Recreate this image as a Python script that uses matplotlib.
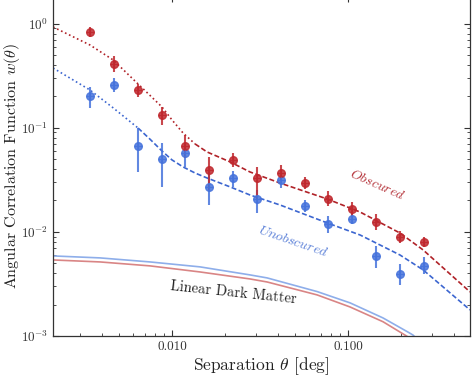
import matplotlib
matplotlib.use("Agg")
import matplotlib.pyplot as plt
from matplotlib.ticker import FixedLocator, FormatStrFormatter, LogLocator, NullFormatter

plt.rcParams['mathtext.fontset'] = 'cm'
plt.rcParams['font.family'] = 'serif'
plt.rcParams['font.serif'] = ['cmr10', 'DejaVu Serif']
plt.rcParams['axes.formatter.use_mathtext'] = True

# measured points
theta = [0.00342, 0.00468, 0.00641, 0.00877, 0.01186, 0.0162, 0.0222, 0.0304,
         0.0416, 0.0570, 0.0769, 0.105, 0.144, 0.197, 0.270]

w_obs = [0.83, 0.41, 0.23, 0.132, 0.0667, 0.0393, 0.049, 0.0329, 0.0367, 0.0294,
         0.0207, 0.0166, 0.0124, 0.00893, 0.0080]
obs_lo = [0.742, 0.343, 0.197, 0.106, 0.0512, 0.0253, 0.0420, 0.0202, 0.0308, 0.0258,
          0.0177, 0.0142, 0.0104, 0.00783, 0.00717]
obs_hi = [0.926, 0.488, 0.263, 0.158, 0.0851, 0.0524, 0.0573, 0.0420, 0.0439, 0.0336,
          0.0247, 0.0194, 0.0149, 0.0102, 0.00893]

w_unobs = [0.201, 0.257, 0.0667, 0.0501, 0.0572, 0.0270, 0.0329, 0.0207, 0.0315, 0.0177,
           0.0119, 0.0133, 0.00587, 0.00394, 0.00471]
unobs_lo = [0.155, 0.220, 0.0376, 0.0270, 0.0419, 0.0181, 0.0270, 0.0152, 0.0264, 0.0155,
            0.00975, 0.0119, 0.00451, 0.00309, 0.00394]
unobs_hi = [0.246, 0.300, 0.0993, 0.0713, 0.0713, 0.0393, 0.0384, 0.0253, 0.0352, 0.0202,
            0.0142, 0.0152, 0.00733, 0.00492, 0.00574]

# halo model fits
model_theta = [0.00211, 0.00342, 0.00463, 0.00641, 0.0075, 0.00877, 0.0100, 0.01155,
               0.01352, 0.0158, 0.0214, 0.0277, 0.0411, 0.0760, 0.117, 0.197, 0.267, 0.493]
model_obs = [0.926, 0.622, 0.447, 0.263, 0.204, 0.158, 0.1186, 0.0889,
             0.0698, 0.0585, 0.0469, 0.0376, 0.0294, 0.0207, 0.0155, 0.00975, 0.0067, 0.00265]
model_unobs = [0.374, 0.230, 0.155, 0.0993, 0.0775, 0.0597, 0.0490, 0.0420,
               0.0367, 0.0329, 0.0270, 0.0226, 0.0181, 0.0122, 0.00933, 0.00600, 0.00431, 0.00178]
split_obs = 8     # dotted up to this index, dashed after
split_unobs = 3

# linear dark matter
lin_theta = [0.00211, 0.00390, 0.00750, 0.0144, 0.0277, 0.0347, 0.0667, 0.1026, 0.158,
             0.219, 0.234, 0.26]
lin_obs = [0.00537, 0.00514, 0.00471, 0.00412, 0.00353, 0.00330, 0.00248, 0.00190, 0.00137,
           0.00098, 0.00090, 0.0008]
lin_unobs = [0.00587, 0.00562, 0.00514, 0.00461, 0.00386, 0.00361, 0.00267, 0.00208, 0.00149,
             0.00109, 0.00102, 0.00085]

red = "#c0282e"
blue = "#4673dc"
red_line = "#b02228"
blue_line = "#3c66d0"

fig = plt.figure(figsize=(4.74, 3.79), dpi=100)
ax = fig.add_axes([0.112, 0.1135, 0.8796, 0.8965])

# linear DM
ax.plot(lin_theta, lin_unobs, color="#8eaeea", lw=1.2)
ax.plot(lin_theta, lin_obs, color="#d98585", lw=1.2)

# models
ax.plot(model_theta[:split_obs + 1], model_obs[:split_obs + 1], ls=':', color=red_line, lw=1.2)
ax.plot(model_theta[split_obs:], model_obs[split_obs:], ls=(0, (3, 1.5)), color=red_line, lw=1.2)
ax.plot(model_theta[:split_unobs + 1], model_unobs[:split_unobs + 1], ls=':', color=blue_line, lw=1.2)
ax.plot(model_theta[split_unobs:], model_unobs[split_unobs:], ls=(0, (3, 1.5)), color=blue_line, lw=1.2)

# data
for w, lo, hi, c in [(w_unobs, unobs_lo, unobs_hi, blue), (w_obs, obs_lo, obs_hi, red)]:
    yerr = [[a - b for a, b in zip(w, lo)], [b - a for a, b in zip(w, hi)]]
    ax.errorbar(theta, w, yerr=yerr, fmt='o', color=c, ms=5.5, elinewidth=1.5,
                alpha=0.85, mec=c, zorder=3)
    ax.plot(theta, w, '+', color=c, ms=5.5, mew=0.8, alpha=0.9, zorder=4)

ax.set_xscale('log')
ax.set_yscale('log')
ax.set_xlim(0.00211, 0.493)
ax.set_ylim(1e-3, 1.83)

ax.xaxis.set_major_locator(FixedLocator([0.01, 0.1]))
ax.xaxis.set_major_formatter(FormatStrFormatter('%.3f'))
ax.xaxis.set_minor_locator(LogLocator(base=10, subs=range(2, 10)))
ax.xaxis.set_minor_formatter(NullFormatter())
ax.yaxis.set_minor_locator(LogLocator(base=10, subs=range(2, 10)))
ax.yaxis.set_minor_formatter(NullFormatter())

ax.tick_params(which='both', direction='in', top=True, right=True, colors='#333333', labelsize=9.5)
ax.tick_params(which='major', length=4)
ax.tick_params(which='minor', length=2)
for s in ax.spines.values():
    s.set_color('#333333')
    s.set_linewidth(0.9)

ax.set_xlabel(r'Separation $\theta$ [deg]', fontsize=12.5, color='#222222', labelpad=2)
ax.set_ylabel(r'Angular Correlation Function $w(\theta)$', fontsize=11.5, color='#222222')
ax.yaxis.set_label_coords(-0.074, 0.5)

ax.text(0.146, 0.0282, r'$\mathit{Obscured}$', color="#b5333a", fontsize=10,
        rotation=-24, ha='center', va='center')
ax.text(0.0487, 0.0080, r'$\mathit{Unobscured}$', color="#5b80d8", fontsize=10,
        rotation=-19, ha='center', va='center')
ax.text(0.0222, 0.00259, 'Linear Dark Matter', color="#222222", fontsize=10.5,
        rotation=-6, ha='center', va='center')

plt.savefig("out.png", dpi=100)
